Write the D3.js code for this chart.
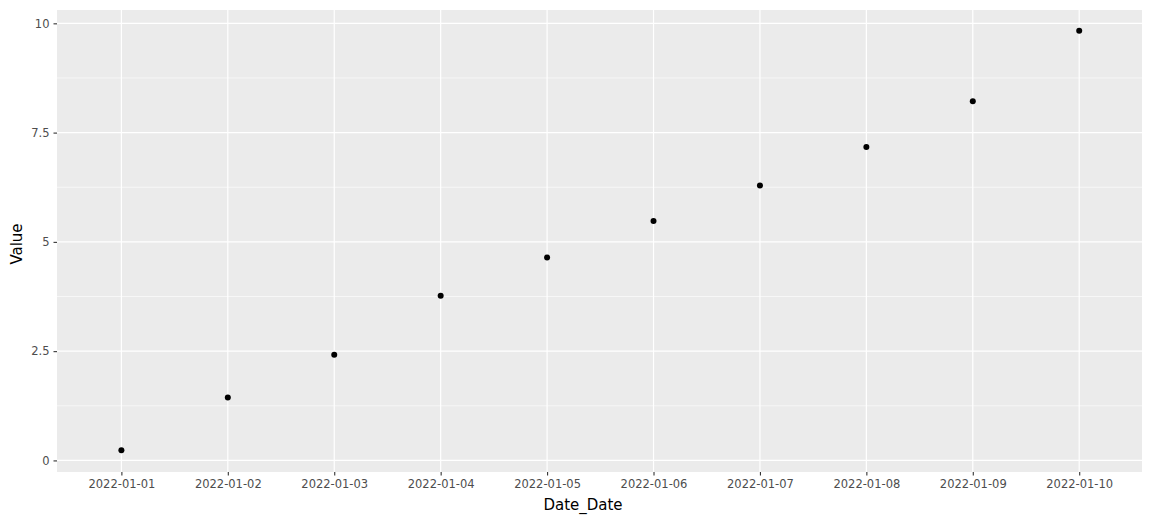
<!DOCTYPE html>
<html><head><meta charset="utf-8">
<script src="https://cdn.jsdelivr.net/npm/d3@7"></script>
<style>body{margin:0;background:#fff}svg{display:block}text{font-family:"DejaVu Sans",sans-serif}</style>
</head><body><svg id="c" width="1152" height="524"></svg>
<script>
const dates = ["2022-01-01","2022-01-02","2022-01-03","2022-01-04","2022-01-05","2022-01-06","2022-01-07","2022-01-08","2022-01-09","2022-01-10"];
const values = [0.23,1.44,2.42,3.77,4.64,5.48,6.29,7.17,8.22,9.83];
const yTicks = [0,2.5,5,7.5,10];
const yTickLabels = ["0","2.5","5","7.5","10"];
const yMinor = [1.25,3.75,6.25,8.75];

const svg = d3.select("#c");
const L=57, T=10, R=1142, B=472;
const parse = d3.utcParse("%Y-%m-%d");
const dd = dates.map(parse);
const day = 86400000;
const x = d3.scaleUtc().domain([+dd[0]-0.605*day, +dd[dd.length-1]+0.59*day]).range([L,R]);
const y = d3.scaleLinear().domain([-0.265,10.305]).range([B,T]);

svg.append("rect").attr("x",L).attr("y",T).attr("width",R-L).attr("height",B-T).attr("fill","#ebebeb");
const g = svg.append("g");
g.selectAll(".ym").data(yMinor).join("line").attr("x1",L).attr("x2",R).attr("y1",d=>y(d)).attr("y2",d=>y(d)).attr("stroke","#fff").attr("stroke-width",0.6);
g.selectAll(".yM").data(yTicks).join("line").attr("x1",L).attr("x2",R).attr("y1",d=>y(d)).attr("y2",d=>y(d)).attr("stroke","#fff").attr("stroke-width",1.2);
g.selectAll(".xM").data(dd).join("line").attr("y1",T).attr("y2",B).attr("x1",d=>x(d)).attr("x2",d=>x(d)).attr("stroke","#fff").attr("stroke-width",1.2);

svg.selectAll(".pt").data(dd).join("circle").attr("cx",d=>x(d)).attr("cy",(d,i)=>y(values[i])).attr("r",3).attr("fill","#000");

const xAxis = svg.append("g").attr("transform",`translate(0,${B})`)
  .call(d3.axisBottom(x).tickValues(dd).tickFormat((d,i)=>dates[i]).tickSize(3.5).tickPadding(4));
const yAxis = svg.append("g").attr("transform",`translate(${L},0)`)
  .call(d3.axisLeft(y).tickValues(yTicks).tickFormat((d,i)=>yTickLabels[i]).tickSize(3.5).tickPadding(4));
[xAxis,yAxis].forEach(a=>{
  a.select(".domain").remove();
  a.selectAll(".tick line").attr("stroke","#333").attr("stroke-width",1.1);
  a.selectAll(".tick text").attr("fill","#4d4d4d").style("font-size","11.5px").style("font-family","DejaVu Sans");
});
svg.append("text").attr("x",583).attr("y",510).attr("text-anchor","middle").style("font-size","15px").attr("fill","#000").text("Date_Date");
svg.append("text").attr("transform",`translate(22,244) rotate(-90)`).attr("text-anchor","middle").style("font-size","15px").attr("fill","#000").text("Value");
</script></body></html>
